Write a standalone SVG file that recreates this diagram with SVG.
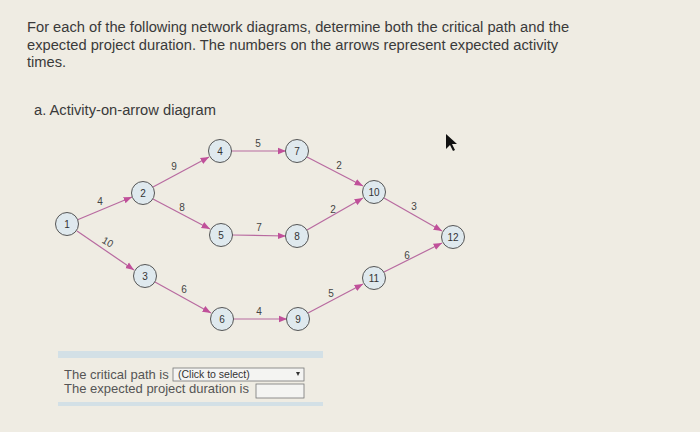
<svg xmlns="http://www.w3.org/2000/svg" width="700" height="432" viewBox="0 0 700 432">
<defs>
<marker id="ah" viewBox="0 0 10 10" refX="10" refY="5" markerWidth="7" markerHeight="7" orient="auto"><path d="M0,1 L10,5 L0,9 z" fill="#c0509a"/></marker>
</defs>
<style>
.t{font-family:"Liberation Sans",Arial,sans-serif;font-size:14.7px;fill:#3a3a3a}
.e{stroke:#b86aa0;stroke-width:1.2;fill:none;marker-end:url(#ah)}
.n circle{fill:#dfe9ee;stroke:#555;stroke-width:1}
.n text{font-family:"Liberation Sans",Arial,sans-serif;font-size:10px;fill:#333;text-anchor:middle}
.l{font-family:"Liberation Sans",Arial,sans-serif;font-size:10px;fill:#444;text-anchor:middle}
</style>
<rect width="700" height="432" fill="#efece3"/>
<text class="t" x="27" y="32">For each of the following network diagrams, determine both the critical path and the</text>
<text class="t" x="27" y="50">expected project duration. The numbers on the arrows represent expected activity</text>
<text class="t" x="27" y="67">times.</text>
<text class="t" x="34" y="115">a. Activity-on-arrow diagram</text>
<path d="M446,134 L446,149 L450,145 L453,151 L455,150 L452,144 L457,144 z" fill="#111"/>
<g id="connectors">
<line class="e" x1="77" y1="220" x2="132" y2="197"/>
<line class="e" x1="77" y1="231" x2="134" y2="270"/>
<line class="e" x1="153" y1="187" x2="209" y2="157"/>
<line class="e" x1="153" y1="199" x2="210" y2="229"/>
<line class="e" x1="155" y1="282" x2="211" y2="313"/>
<line class="e" x1="231" y1="151" x2="286" y2="151"/>
<line class="e" x1="232" y1="235" x2="286" y2="236"/>
<line class="e" x1="233" y1="319" x2="287" y2="319"/>
<line class="e" x1="307" y1="157" x2="363" y2="186"/>
<line class="e" x1="307" y1="230" x2="363" y2="198"/>
<line class="e" x1="308" y1="313" x2="363" y2="284"/>
<line class="e" x1="384" y1="198" x2="442" y2="231"/>
<line class="e" x1="384" y1="272" x2="442" y2="243"/>
<text class="l" x="100" y="205">4</text>
<text class="l" x="106" y="245" transform="rotate(30 106 245)">10</text>
<text class="l" x="174" y="170">9</text>
<text class="l" x="182" y="211">8</text>
<text class="l" x="184" y="293">6</text>
<text class="l" x="258" y="147">5</text>
<text class="l" x="259" y="231">7</text>
<text class="l" x="259" y="315">4</text>
<text class="l" x="339" y="169">2</text>
<text class="l" x="333" y="213">2</text>
<text class="l" x="331" y="297">5</text>
<text class="l" x="414" y="210">3</text>
<text class="l" x="407" y="259">6</text>
</g>
<g id="n1" class="n"><circle cx="67" cy="224" r="11.5"/><text x="67" y="227.5">1</text></g>
<g id="n2" class="n"><circle cx="143" cy="193" r="11.5"/><text x="143" y="196.5">2</text></g>
<g id="n3" class="n"><circle cx="145" cy="276" r="11.5"/><text x="145" y="279.5">3</text></g>
<g id="n4" class="n"><circle cx="220" cy="151" r="11.5"/><text x="220" y="154.5">4</text></g>
<g id="n5" class="n"><circle cx="221" cy="235" r="11.5"/><text x="221" y="238.5">5</text></g>
<g id="n6" class="n"><circle cx="222" cy="319" r="11.5"/><text x="222" y="322.5">6</text></g>
<g id="n7" class="n"><circle cx="297" cy="151" r="11.5"/><text x="297" y="154.5">7</text></g>
<g id="n8" class="n"><circle cx="297" cy="236" r="11.5"/><text x="297" y="239.5">8</text></g>
<g id="n9" class="n"><circle cx="298" cy="319" r="11.5"/><text x="298" y="322.5">9</text></g>
<g id="n10" class="n"><circle cx="374" cy="192" r="11.5"/><text x="374" y="195.5">10</text></g>
<g id="n11" class="n"><circle cx="374" cy="278" r="11.5"/><text x="374" y="281.5">11</text></g>
<g id="n12" class="n"><circle cx="453" cy="237" r="11.5"/><text x="453" y="240.5">12</text></g>
<rect x="58" y="351" width="265" height="7" fill="#d3e0e6"/>
<rect x="58" y="402" width="265" height="4" fill="#d3e0e6"/>
<text class="t" x="64" y="379" style="font-size:13px;fill:#555">The critical path is</text>
<text class="t" x="64" y="393" style="font-size:13px;fill:#555">The expected project duration is</text>
<rect x="173" y="368" width="131" height="13" fill="#f4f4f2" stroke="#777" stroke-width="0.8"/>
<text class="t" x="178" y="378" style="font-size:10.5px;fill:#333">(Click to select)</text>
<path d="M296,372 L300,372 L298,376 z" fill="#333"/>
<rect x="256" y="384" width="48" height="14" fill="#f4f4f2" stroke="#777" stroke-width="0.8"/>
</svg>
